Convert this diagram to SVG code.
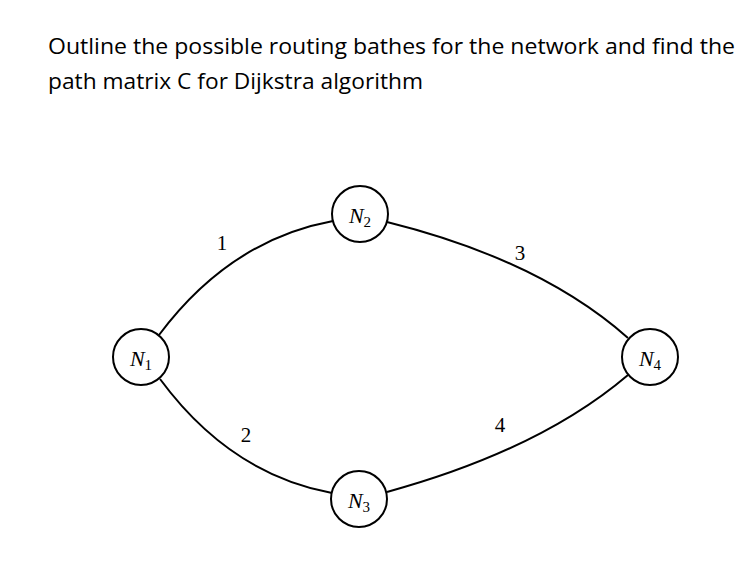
<svg xmlns="http://www.w3.org/2000/svg" width="751" height="567" viewBox="0 0 751 567">
<style>
.t{font-family:"Open Sans","Liberation Sans",sans-serif;font-size:21px;fill:#000}
.e{fill:none;stroke:#000;stroke-width:2}
.n{fill:#fff;stroke:#000;stroke-width:2}
.l{font-family:"Liberation Serif",serif;font-size:21px;fill:#000}
.nl{font-family:"Liberation Serif",serif;font-size:22px;font-style:italic;fill:#000}
.s{font-family:"Liberation Serif",serif;font-size:15px;fill:#000}
</style>
<rect width="751" height="567" fill="#fff"/>
<text class="t" x="48" y="54" textLength="687" lengthAdjust="spacingAndGlyphs">Outline the possible routing bathes for the network and find the</text>
<text class="t" x="48" y="89" textLength="375" lengthAdjust="spacingAndGlyphs">path matrix C for Dijkstra algorithm</text>
<g id="connectors">
<path class="e" d="M159,335 Q230,240 333,221"/>
<path class="e" d="M387,222 Q540,260 628,338"/>
<path class="e" d="M160,379 Q230,474 332,493"/>
<path class="e" d="M387,492 Q540,450 628,375"/>
<text class="l" x="222" y="250" text-anchor="middle">1</text>
<text class="l" x="520" y="260" text-anchor="middle">3</text>
<text class="l" x="246" y="442" text-anchor="middle">2</text>
<text class="l" x="500" y="432" text-anchor="middle">4</text>
</g>
<g id="N1"><circle class="n" cx="141" cy="357" r="28"/><text x="141" y="366" text-anchor="middle"><tspan class="nl">N</tspan><tspan class="s" dy="4">1</tspan></text></g>
<g id="N2"><circle class="n" cx="360" cy="214" r="28"/><text x="360" y="223" text-anchor="middle"><tspan class="nl">N</tspan><tspan class="s" dy="4">2</tspan></text></g>
<g id="N3"><circle class="n" cx="359" cy="499" r="28"/><text x="359" y="508" text-anchor="middle"><tspan class="nl">N</tspan><tspan class="s" dy="4">3</tspan></text></g>
<g id="N4"><circle class="n" cx="650" cy="357" r="28"/><text x="650" y="366" text-anchor="middle"><tspan class="nl">N</tspan><tspan class="s" dy="4">4</tspan></text></g>
</svg>
